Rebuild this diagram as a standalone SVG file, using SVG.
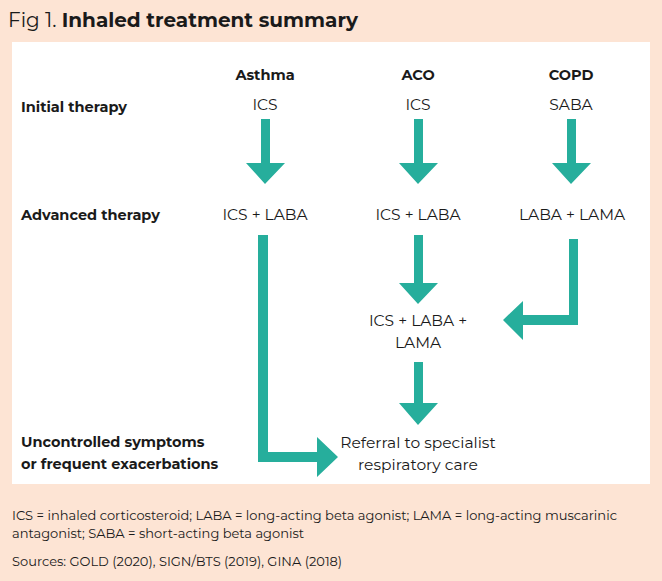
<svg xmlns="http://www.w3.org/2000/svg" width="662" height="581" viewBox="0 0 662 581">
<style>
text{font-family:"Montserrat","Liberation Sans",Arial,sans-serif;font-size:15.5px;fill:#1a1a1a}
.b{font-weight:bold;font-size:14.5px}
.c{text-anchor:middle}
.a{fill:#26ae9c}
.s{font-size:13px}
</style>
<rect width="662" height="581" fill="#fde4d4"/>
<rect x="12" y="42" width="638" height="442" fill="#fff"/>
<text x="8" y="27" style="font-size:20px">Fig 1. <tspan style="font-weight:bold">Inhaled treatment summary</tspan></text>
<g id="headers">
<text class="b c" x="265" y="80">Asthma</text>
<text class="b c" x="418" y="80">ACO</text>
<text class="b c" x="571" y="80">COPD</text>
</g>
<g id="rowlabels">
<text class="b" x="21" y="112">Initial therapy</text>
<text class="b" x="21" y="220">Advanced therapy</text>
<text class="b" x="21" y="447">Uncontrolled symptoms</text>
<text class="b" x="21" y="469">or frequent exacerbations</text>
</g>
<g id="n1"><text class="c" x="265" y="110">ICS</text></g>
<g id="n2"><text class="c" x="418" y="110">ICS</text></g>
<g id="n3"><text class="c" x="571" y="110">SABA</text></g>
<g id="n4"><text class="c" x="265" y="220">ICS + LABA</text></g>
<g id="n5"><text class="c" x="418" y="220">ICS + LABA</text></g>
<g id="n6"><text class="c" x="572" y="220">LABA + LAMA</text></g>
<g id="n7"><text class="c" x="418" y="326">ICS + LABA +</text><text class="c" x="418" y="348">LAMA</text></g>
<g id="n8"><text class="c" x="418" y="448">Referral to specialist</text><text class="c" x="418" y="470">respiratory care</text></g>
<g id="connectors" class="a">
<polygon points="261,119 270,119 270,163 285,163 265,184 246,163 261,163"/>
<polygon points="414,119 423,119 423,163 438,163 418,184 399,163 414,163"/>
<polygon points="567,119 576,119 576,163 591,163 571,184 552,163 567,163"/>
<polygon points="414,235 423,235 423,283 438,283 418,304 399,283 414,283"/>
<polygon points="414,362 423,362 423,403 438,403 418,425 399,403 414,403"/>
<polygon points="258,235 268,235 268,452 317,452 317,437 338,457 317,477 317,462 258,462"/>
<polygon points="569,239 578,239 578,325 523,325 523,340 503,320 523,301 523,315 569,315"/>
</g>
<g id="footer">
<text class="s" x="12" y="520">ICS = inhaled corticosteroid; LABA = long-acting beta agonist; LAMA = long-acting muscarinic</text>
<text class="s" x="12" y="538">antagonist; SABA = short-acting beta agonist</text>
<text class="s" x="12" y="566">Sources: GOLD (2020), SIGN/BTS (2019), GINA (2018)</text>
</g>
</svg>
